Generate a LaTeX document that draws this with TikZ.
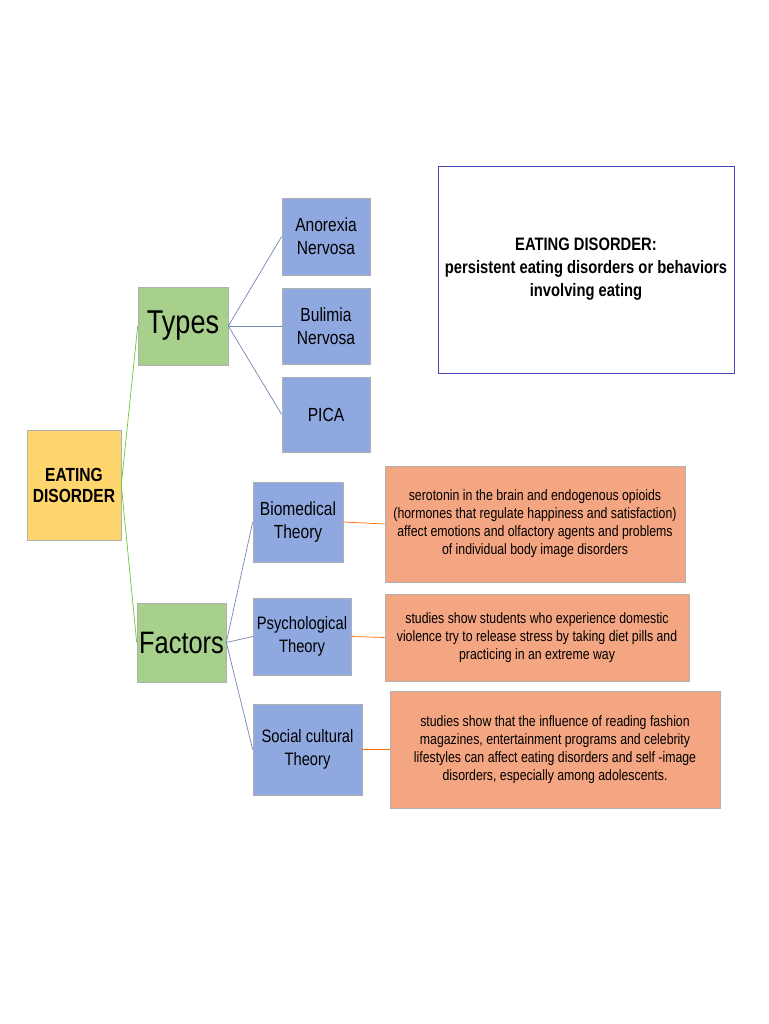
\documentclass[tikz,border=0pt]{standalone}
\usepackage{fontspec}
\setmainfont[FakeStretch=0.82]{Liberation Sans}
\definecolor{yelF}{HTML}{FFD56E}
\definecolor{grnF}{HTML}{A8D08D}
\definecolor{bluF}{HTML}{8FA8E0}
\definecolor{salF}{HTML}{F4A582}
\definecolor{bd}{HTML}{B0B0B0}
\begin{document}
\begin{tikzpicture}[x=1pt,y=-1pt,
 base/.style={draw=bd, line width=0.6pt, align=center, inner sep=2pt},
 yel/.style={base, fill=yelF, font=\bfseries\fontsize{19}{21}\selectfont},
 grn/.style={base, fill=grnF, font=\fontsize{33}{36}\selectfont},
 blu/.style={base, fill=bluF, font=\fontsize{19}{23}\selectfont},
 sal/.style={base, fill=salF, font=\fontsize{15}{18}\selectfont},
 gl/.style={draw=green!50!olive!80!white, line width=0.7pt},
 bl/.style={draw=bluF!80!black, line width=0.7pt},
 ol/.style={draw=orange!85!red, line width=0.7pt}]
\useasboundingbox (0,0) rectangle (768,1024);
\fill[white] (0,0) rectangle (768,1024);
\node[yel, minimum width=94, minimum height=110] (ed) at (74,485) {EATING\\DISORDER};
\node[grn, minimum width=90, minimum height=78] (ty) at (183,326) {Types};
\node[grn, minimum width=89, minimum height=79, font=\fontsize{31}{36}\selectfont] (fa) at (181.5,642.5) {Factors};
\node[blu, minimum width=88, minimum height=77] (an) at (326,236.5) {Anorexia\\Nervosa};
\node[blu, minimum width=88, minimum height=76] (bu) at (326,326) {Bulimia\\Nervosa};
\node[blu, minimum width=88, minimum height=75] (pi) at (326,414.5) {PICA};
\node[blu, minimum width=90, minimum height=80] (bio) at (298,522) {Biomedical\\Theory};
\node[blu, minimum width=98, minimum height=77, font=\fontsize{18}{23}\selectfont] (psy) at (302,636.5) {Psychological\\Theory};
\node[blu, minimum width=109, minimum height=91, font=\fontsize{18}{23}\selectfont] (soc) at (307.5,749.5) {Social cultural\\Theory};
\node[sal, minimum width=300, minimum height=116] (s1) at (535,524) {serotonin in the brain and endogenous opioids\\(hormones that regulate happiness and satisfaction)\\affect emotions and olfactory agents and problems\\of individual body image disorders};
\node[sal, minimum width=304, minimum height=87] (s2) at (537,637.5) {studies show students who experience domestic\\violence try to release stress by taking diet pills and\\practicing in an extreme way};
\node[sal, minimum width=330, minimum height=117] (s3) at (555,749.5) {studies show that the influence of reading fashion\\magazines, entertainment programs and celebrity\\lifestyles can affect eating disorders and self -image\\disorders, especially among adolescents.};
\node[draw=blue!45!gray, line width=0.8pt, fill=white, minimum width=296, minimum height=207, align=center, font=\bfseries\fontsize{18}{23}\selectfont] (def) at (586,269.5) {EATING DISORDER:\\persistent eating disorders or behaviors\\involving eating};
\draw[gl] (ed.east) -- (ty.west);
\draw[gl] (ed.east) -- (fa.west);
\foreach \n in {an,bu,pi} \draw[bl] (ty.east) -- (\n.west);
\foreach \n in {bio,psy,soc} \draw[bl] (fa.east) -- (\n.west);
\draw[ol] (bio.east) -- (s1.west);
\draw[ol] (psy.east) -- (s2.west);
\draw[ol] (soc.east) -- (s3.west);
\end{tikzpicture}
\end{document}
